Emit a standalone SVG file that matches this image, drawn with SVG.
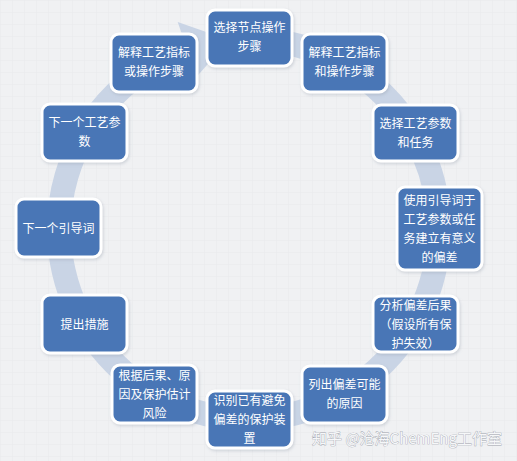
<svg xmlns="http://www.w3.org/2000/svg" width="517" height="461" viewBox="0 0 517 461">
<defs>
<pattern id="grid" width="12" height="12" patternUnits="userSpaceOnUse">
<path d="M12 0H0V12" fill="none" stroke="#e8e9ec" stroke-width="1"/>
</pattern>
<filter id="sh" x="-10%" y="-10%" width="130%" height="130%">
<feDropShadow dx="1" dy="1.5" stdDeviation="1.5" flood-color="#8a94a6" flood-opacity="0.35"/>
</filter>
<style>
.box{fill:#4876b6;stroke:#ffffff;stroke-width:3;filter:url(#sh)}
.t{font-family:"Noto Sans CJK SC","Liberation Sans",sans-serif;font-size:12px;fill:#ffffff;text-anchor:middle}
.wm{font-family:"Noto Sans CJK SC","Liberation Sans",sans-serif;font-size:15px;fill:#f6f7f9;stroke:#9ea4ad;stroke-width:0.7;paint-order:stroke}
</style>
</defs>
<rect width="517" height="461" fill="#f0f1f3"/>
<rect width="517" height="461" fill="url(#grid)"/>
<g id="connectors">
<path d="M288.5 43.2 A190 190 0 1 1 187.1 49.4" fill="none" stroke="#c9d4e5" stroke-width="24"/>
<polygon points="177.7,21.9 229.1,40 196.6,76.8" fill="#c9d4e5"/>
</g>
<g id="n1"><rect class="box" x="207" y="10" width="85" height="56" rx="8"/><text class="t" x="249.5" y="32">选择节点操作</text><text class="t" x="249.5" y="51">步骤</text></g>
<g id="n2"><rect class="box" x="302" y="34" width="85" height="58" rx="8"/><text class="t" x="344.5" y="57">解释工艺指标</text><text class="t" x="344.5" y="76">和操作步骤</text></g>
<g id="n3"><rect class="box" x="373" y="105" width="85" height="56" rx="8"/><text class="t" x="415.5" y="128">选择工艺参数</text><text class="t" x="415.5" y="147">和任务</text></g>
<g id="n4"><rect class="box" x="397" y="187" width="85" height="83" rx="8"/><text class="t" x="439.5" y="204.5">使用引导词于</text><text class="t" x="439.5" y="223.5">工艺参数或任</text><text class="t" x="439.5" y="242.5">务建立有意义</text><text class="t" x="439.5" y="261.5">的偏差</text></g>
<g id="n5"><rect class="box" x="373" y="296" width="85" height="56" rx="8"/><text class="t" x="415.5" y="309.5">分析偏差后果</text><text class="t" x="415.5" y="328.5">（假设所有保</text><text class="t" x="415.5" y="347.5">护失效）</text></g>
<g id="n6"><rect class="box" x="302" y="366" width="85" height="57" rx="8"/><text class="t" x="344.5" y="389">列出偏差可能</text><text class="t" x="344.5" y="408">的原因</text></g>
<g id="n7"><rect class="box" x="207" y="391" width="85" height="57" rx="8"/><text class="t" x="249.5" y="405">识别已有避免</text><text class="t" x="249.5" y="424">偏差的保护装</text><text class="t" x="249.5" y="443">置</text></g>
<g id="n8"><rect class="box" x="112" y="365" width="85" height="58" rx="8"/><text class="t" x="154.5" y="379.5">根据后果、原</text><text class="t" x="154.5" y="398.5">因及保护估计</text><text class="t" x="154.5" y="417.5">风险</text></g>
<g id="n9"><rect class="box" x="42" y="295" width="85" height="58" rx="8"/><text class="t" x="84.5" y="328.5">提出措施</text></g>
<g id="n10"><rect class="box" x="16" y="199" width="85" height="58" rx="8"/><text class="t" x="58.5" y="232.5">下一个引导词</text></g>
<g id="n11"><rect class="box" x="42" y="104" width="85" height="57" rx="8"/><text class="t" x="84.5" y="127">下一个工艺参</text><text class="t" x="84.5" y="146">数</text></g>
<g id="n12"><rect class="box" x="111" y="34" width="86" height="58" rx="8"/><text class="t" x="154" y="57">解释工艺指标</text><text class="t" x="154" y="76">或操作步骤</text></g>
<text class="wm" x="312" y="444" textLength="190" lengthAdjust="spacingAndGlyphs">知乎 @沧海ChemEng工作室</text>
</svg>
